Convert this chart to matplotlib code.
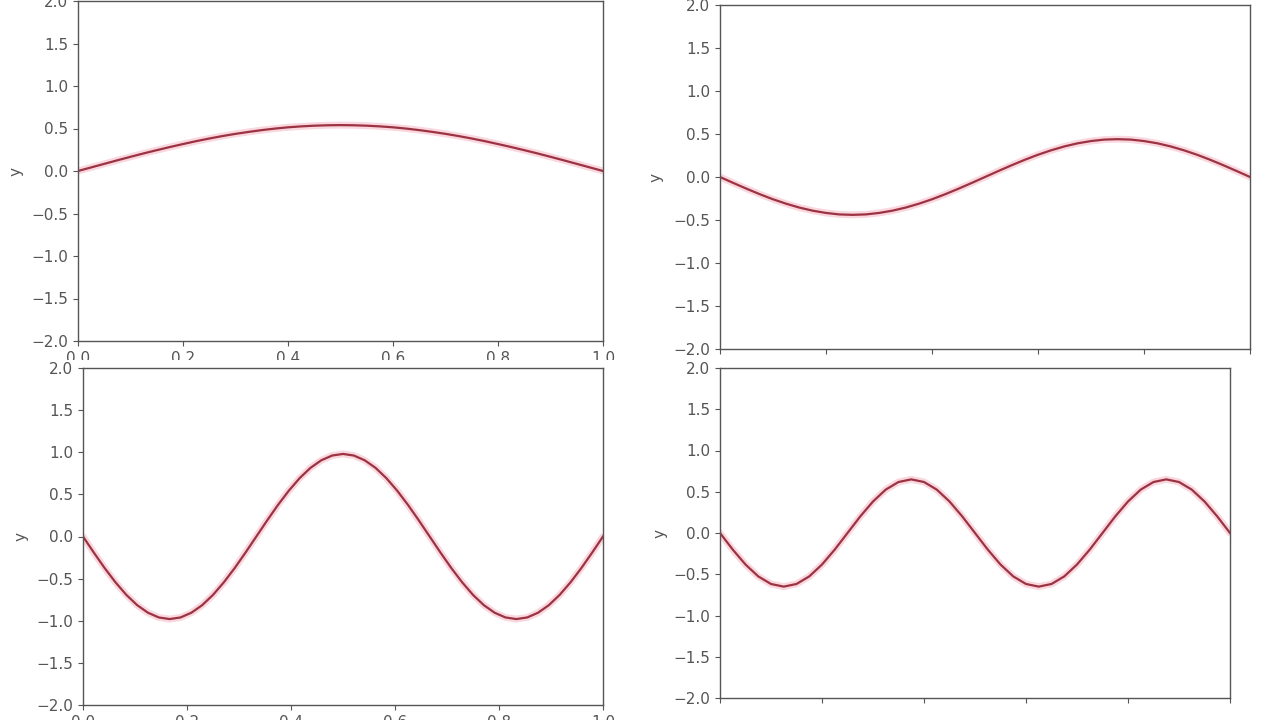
import numpy as np
import matplotlib
matplotlib.use("Agg")
import matplotlib.pyplot as plt
from matplotlib.patches import Rectangle

# ---- data ----
x40 = [i / 40 for i in range(41)]
x48 = [i / 48 for i in range(49)]

y_tl = [0.000, 0.042, 0.084, 0.126, 0.167, 0.207, 0.245, 0.282, 0.317, 0.351, 0.382,
        0.411, 0.437, 0.460, 0.481, 0.499, 0.514, 0.525, 0.533, 0.538, 0.540,
        0.538, 0.533, 0.525, 0.514, 0.499, 0.481, 0.460, 0.437, 0.411, 0.382,
        0.351, 0.317, 0.282, 0.245, 0.207, 0.167, 0.126, 0.084, 0.042, 0.000]

y_tr = [0.000, -0.069, -0.136, -0.200, -0.259, -0.311, -0.356, -0.392, -0.418, -0.435, -0.440,
        -0.435, -0.418, -0.392, -0.356, -0.311, -0.259, -0.200, -0.136, -0.069, 0.000,
        0.069, 0.136, 0.200, 0.259, 0.311, 0.356, 0.392, 0.418, 0.435, 0.440,
        0.435, 0.418, 0.392, 0.356, 0.311, 0.259, 0.200, 0.136, 0.069, 0.000]

y_bl = [0.000, -0.191, -0.375, -0.544, -0.693, -0.815, -0.905, -0.961, -0.980,
        -0.961, -0.905, -0.815, -0.693, -0.544, -0.375, -0.191, 0.000,
        0.191, 0.375, 0.544, 0.693, 0.815, 0.905, 0.961, 0.980,
        0.961, 0.905, 0.815, 0.693, 0.544, 0.375, 0.191, 0.000,
        -0.191, -0.375, -0.544, -0.693, -0.815, -0.905, -0.961, -0.980,
        -0.961, -0.905, -0.815, -0.693, -0.544, -0.375, -0.191, 0.000]

y_br = [0.000, -0.201, -0.382, -0.526, -0.618, -0.650, -0.618, -0.526, -0.382, -0.201,
        0.000, 0.201, 0.382, 0.526, 0.618, 0.650, 0.618, 0.526, 0.382, 0.201,
        0.000, -0.201, -0.382, -0.526, -0.618, -0.650, -0.618, -0.526, -0.382, -0.201,
        0.000, 0.201, 0.382, 0.526, 0.618, 0.650, 0.618, 0.526, 0.382, 0.201, 0.000]

y_ticks = [-2.0, -1.5, -1.0, -0.5, 0.0, 0.5, 1.0, 1.5, 2.0]
x_ticks = [0.0, 0.2, 0.4, 0.6, 0.8, 1.0]

W, H = 1280, 720
fig = plt.figure(figsize=(12.8, 7.2), dpi=100)
fig.patch.set_facecolor("white")


def box(l, r, t, b):
    return [l / W, 1 - b / H, (r - l) / W, (b - t) / H]


def style(ax, xs, ys, show_xlabels, labelpad):
    ax.plot(xs, ys, color="#f6b0bf", lw=5, alpha=0.5, solid_capstyle="round",
            solid_joinstyle="round")
    ax.plot(xs, ys, color="#9c3342", lw=1.6, solid_joinstyle="round")
    ax.set_xlim(0, 1)
    ax.set_ylim(-2, 2)
    ax.set_yticks(y_ticks)
    ax.set_xticks(x_ticks)
    ax.tick_params(colors="#555555", labelsize=11, labelcolor="#555555")
    ax.tick_params(axis="x", labelbottom=show_xlabels)
    for s in ax.spines.values():
        s.set_color("#555555")
        s.set_linewidth(1.0)
    ax.set_ylabel("y", color="#555555", fontsize=11, labelpad=labelpad)


ax_tl = fig.add_axes(box(78, 603, 1, 341), zorder=0)
style(ax_tl, x40, y_tl, True, 6)

ax_tr = fig.add_axes(box(720, 1250, 5, 349), zorder=0)
style(ax_tr, x40, y_tr, False, 7)

# white cover hiding the lower part of the upper charts' tick labels
fig.add_artist(Rectangle((0, 0), 1, 1 - 360 / H, transform=fig.transFigure,
                         facecolor="white", edgecolor="none", zorder=1))

ax_bl = fig.add_axes(box(83, 603, 368, 705), zorder=2)
style(ax_bl, x48, y_bl, True, 6)

ax_br = fig.add_axes(box(720, 1230, 368, 698), zorder=2)
style(ax_br, x40, y_br, False, 4)

fig.savefig("out.png", dpi=100)
